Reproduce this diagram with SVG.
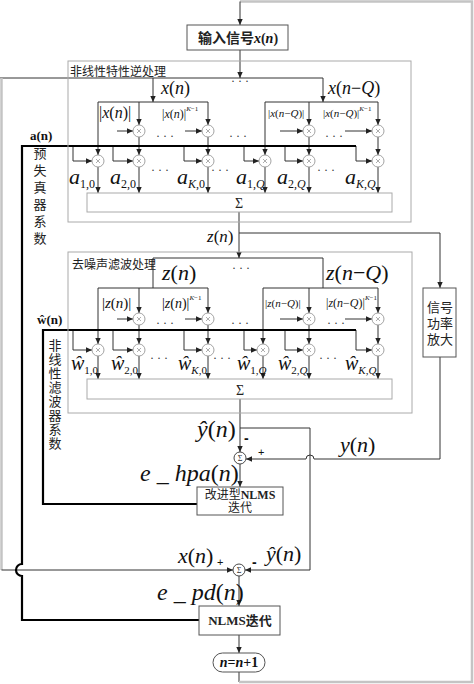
<svg xmlns="http://www.w3.org/2000/svg" width="474" height="684" viewBox="0 0 474 684">
<defs>
<marker id="ah" viewBox="0 0 10 10" refX="10" refY="5" markerWidth="7" markerHeight="6" orient="auto" markerUnits="userSpaceOnUse"><path d="M0,0.5 L10,5 L0,9.5 z" fill="#222"/></marker>
<g id="mul"><circle r="6" fill="#fff" stroke="#999" stroke-width="0.9"/><path d="M-2,-2 L2,2 M2,-2 L-2,2" stroke="#999" stroke-width="0.8"/></g>
<g id="sj"><circle r="6" fill="#fff" stroke="#333" stroke-width="0.9"/><text y="3" font-family="Liberation Serif, serif" font-size="8" text-anchor="middle" fill="#333">Σ</text></g>
<style>
.ln{fill:none;stroke:#333;stroke-width:1}
.ar{fill:none;stroke:#333;stroke-width:1;marker-end:url(#ah)}
.th{fill:none;stroke:#000;stroke-width:2.2}
.lp{fill:none;stroke:#c4c4c4;stroke-width:2.5}
.fr{fill:none;stroke:#aaa;stroke-width:1}
.bx{fill:#fff;stroke:#555;stroke-width:1}
.cn{font-family:"Liberation Serif","Noto Sans CJK SC",serif;fill:#222}
.m{font-family:"Liberation Serif",serif;font-style:italic;fill:#111}
.r{font-style:normal}
.b{font-weight:bold}
.dt{font-family:"Liberation Serif",serif;font-size:12px;fill:#333;text-anchor:middle}
</style>
</defs>

<g id="connectors">
<!-- outer loop -->
<path class="ln" d="M239,672 V682"/>
<path class="lp" d="M239,682 H472 V1.5 H240"/>
<path class="ar" d="M240,1.5 V25"/>
<path class="ar" d="M240,50 V78"/>
<!-- x(n) distribution -->
<path class="ln" d="M0,78 H323"/>
<path class="lp" d="M1.5,78 V570"/>
<path class="ar" d="M1.5,570 H233"/>
<path class="ar" d="M153,78 V102"/>
<path class="ar" d="M323,78 V102"/>

<!-- block 1 -->
<path class="ln" d="M98,102 H208 M265,102 H378"/>
<path class="ar" d="M98,102 V155"/><path class="ar" d="M265,102 V155"/>
<path class="ar" d="M139,102 V125"/><path class="ar" d="M208,102 V125"/><path class="ar" d="M309,102 V125"/><path class="ar" d="M378,102 V125"/>
<path class="ar" d="M139,137 V155"/><path class="ar" d="M208,137 V155"/><path class="ar" d="M309,137 V155"/><path class="ar" d="M378,137 V155"/>
<path class="ar" d="M117,131 H133"/><path class="ar" d="M185,131 H202"/><path class="ar" d="M280,131 H303"/><path class="ar" d="M345,131 H372"/>
<path class="ar" d="M73,146 V161 H92"/><path class="ar" d="M113,146 V161 H133"/><path class="ar" d="M184,146 V161 H202"/><path class="ar" d="M244,146 V161 H259"/><path class="ar" d="M285,146 V161 H303"/><path class="ar" d="M356,146 V161 H372"/>
<path class="ar" d="M98,167 V193"/><path class="ar" d="M139,167 V193"/><path class="ar" d="M208,167 V193"/><path class="ar" d="M265,167 V193"/><path class="ar" d="M309,167 V193"/><path class="ar" d="M378,167 V193"/>
<!-- z(n) -->
<path class="ar" d="M239,212 V258"/>
<path class="ar" d="M239,233 H440 V288"/>

<!-- block 2 -->
<path class="ln" d="M153,258 H323 M153,258 V288 M323,258 V288"/>
<path class="ln" d="M98,288 H208 M263,288 H378"/>
<path class="ar" d="M98,288 V344"/><path class="ar" d="M263,288 V344"/>
<path class="ar" d="M139,288 V313"/><path class="ar" d="M208,288 V313"/><path class="ar" d="M309,288 V313"/><path class="ar" d="M378,288 V313"/>
<path class="ar" d="M139,325 V344"/><path class="ar" d="M208,325 V344"/><path class="ar" d="M309,325 V344"/><path class="ar" d="M378,325 V344"/>
<path class="ar" d="M117,319 H133"/><path class="ar" d="M185,319 H202"/><path class="ar" d="M280,319 H303"/><path class="ar" d="M345,319 H372"/>
<path class="ar" d="M73,330 V350 H92"/><path class="ar" d="M113,330 V350 H133"/><path class="ar" d="M184,330 V350 H202"/><path class="ar" d="M244,330 V350 H257"/><path class="ar" d="M285,330 V350 H303"/><path class="ar" d="M356,330 V350 H372"/>
<path class="ar" d="M98,356 V379"/><path class="ar" d="M139,356 V379"/><path class="ar" d="M208,356 V379"/><path class="ar" d="M263,356 V379"/><path class="ar" d="M309,356 V379"/><path class="ar" d="M378,356 V379"/>

<!-- error 1 -->
<path class="ar" d="M240,399 V452"/>
<path class="ln" d="M240,428 H310 V570"/>
<path class="ar" d="M310,570 H245"/>
<path class="ar" d="M440,357 V459 H314 A4,4 0 0 0 306,459 H246"/>
<path class="ar" d="M240,464 V487"/>
<!-- coefficient buses -->
<path class="th" d="M197,504 H43 V330 H356"/>
<path class="th" d="M199,620 H22 V576 A6,6 0 0 1 22,564 V146 H356"/>
<!-- error 2 -->
<path class="ar" d="M239,576 V606"/>
<path class="ar" d="M239,635 V653"/>
</g>

<g id="input-box">
<rect class="bx" x="187" y="25" width="101" height="25"/>
<text class="cn b" x="238" y="43" font-size="14" text-anchor="middle">输入信号<tspan class="m b">x</tspan><tspan class="b">(</tspan><tspan class="m b">n</tspan><tspan class="b">)</tspan></text>
</g>
<text class="m" x="161" y="94" font-size="18">x<tspan class="r">(</tspan>n<tspan class="r">)</tspan></text>
<text class="dt" x="240" y="85">· · ·</text>
<text class="m" x="328" y="94" font-size="18">x<tspan class="r">(</tspan>n<tspan class="r">−</tspan>Q<tspan class="r">)</tspan></text>

<g id="block1">
<rect class="fr" x="68" y="61" width="343" height="161"/>
<text class="cn" x="70" y="76" font-size="12">非线性特性逆处理</text>
<text class="m" x="99" y="118" font-size="16"><tspan class="r">|</tspan>x<tspan class="r">(</tspan>n<tspan class="r">)|</tspan></text>
<text class="m" x="162" y="118" font-size="12"><tspan class="r">|</tspan>x<tspan class="r">(</tspan>n<tspan class="r">)|</tspan><tspan dy="-7" font-size="7">K<tspan class="r">−1</tspan></tspan></text>
<text class="m" x="268" y="117" font-size="11"><tspan class="r">|</tspan>x<tspan class="r">(</tspan>n<tspan class="r">−</tspan>Q<tspan class="r">)|</tspan></text>
<text class="m" x="323" y="117" font-size="11"><tspan class="r">|</tspan>x<tspan class="r">(</tspan>n<tspan class="r">−</tspan>Q<tspan class="r">)|</tspan><tspan dy="-6" font-size="7">K<tspan class="r">−1</tspan></tspan></text>
<use href="#mul" x="139" y="131"/><use href="#mul" x="208" y="131"/><use href="#mul" x="309" y="131"/><use href="#mul" x="378" y="131"/>
<use href="#mul" x="98" y="161"/><use href="#mul" x="139" y="161"/><use href="#mul" x="208" y="161"/><use href="#mul" x="265" y="161"/><use href="#mul" x="309" y="161"/><use href="#mul" x="378" y="161"/>
<text class="dt" x="165" y="140">· · ·</text><text class="dt" x="238" y="140">· · ·</text><text class="dt" x="334" y="140">· · ·</text>
<text class="dt" x="160" y="174">· · ·</text><text class="dt" x="220" y="174">· · ·</text><text class="dt" x="326" y="174">· · ·</text>
<text class="m" x="69" y="184" font-size="22">a<tspan class="r" dy="4" font-size="12">1,0</tspan></text>
<text class="m" x="110" y="184" font-size="22">a<tspan class="r" dy="4" font-size="12">2,0</tspan></text>
<text class="m" x="177" y="184" font-size="22">a<tspan dy="4" font-size="12">K<tspan class="r">,0</tspan></tspan></text>
<text class="m" x="236" y="184" font-size="22">a<tspan dy="4" font-size="12"><tspan class="r">1,</tspan>Q</tspan></text>
<text class="m" x="277" y="184" font-size="22">a<tspan dy="4" font-size="12"><tspan class="r">2,</tspan>Q</tspan></text>
<text class="m" x="345" y="184" font-size="22">a<tspan dy="4" font-size="12">K<tspan class="r">,</tspan>Q</tspan></text>
</g>
<g id="sum1">
<rect class="fr" x="87" y="193" width="305" height="19"/>
<text x="239" y="208" font-family="Liberation Serif, serif" font-size="14" text-anchor="middle" fill="#222">Σ</text>
</g>
<text class="m" x="207" y="242" font-size="17">z<tspan class="r">(</tspan>n<tspan class="r">)</tspan></text>

<g id="block2">
<rect class="fr" x="68" y="252" width="344" height="161"/>
<text class="cn" x="72" y="269" font-size="12">去噪声滤波处理</text>
<text class="m" x="162" y="280" font-size="22">z<tspan class="r">(</tspan>n<tspan class="r">)</tspan></text>
<text class="dt" x="241" y="272">· · ·</text>
<text class="m" x="326" y="280" font-size="22">z<tspan class="r">(</tspan>n<tspan class="r">−</tspan>Q<tspan class="r">)</tspan></text>
<text class="m" x="102" y="308" font-size="15"><tspan class="r">|</tspan>z<tspan class="r">(</tspan>n<tspan class="r">)|</tspan></text>
<text class="m" x="162" y="308" font-size="14"><tspan class="r">|</tspan>z<tspan class="r">(</tspan>n<tspan class="r">)|</tspan><tspan dy="-8" font-size="7">K<tspan class="r">−1</tspan></tspan></text>
<text class="m" x="265" y="307" font-size="11"><tspan class="r">|</tspan>z<tspan class="r">(</tspan>n<tspan class="r">−</tspan>Q<tspan class="r">)|</tspan></text>
<text class="m" x="326" y="307" font-size="12"><tspan class="r">|</tspan>z<tspan class="r">(</tspan>n<tspan class="r">−</tspan>Q<tspan class="r">)|</tspan><tspan dy="-7" font-size="7">K<tspan class="r">−1</tspan></tspan></text>
<use href="#mul" x="139" y="319"/><use href="#mul" x="208" y="319"/><use href="#mul" x="309" y="319"/><use href="#mul" x="378" y="319"/>
<use href="#mul" x="98" y="350"/><use href="#mul" x="139" y="350"/><use href="#mul" x="208" y="350"/><use href="#mul" x="263" y="350"/><use href="#mul" x="309" y="350"/><use href="#mul" x="378" y="350"/>
<text class="dt" x="165" y="327">· · ·</text><text class="dt" x="240" y="327">· · ·</text><text class="dt" x="336" y="327">· · ·</text>
<text class="dt" x="159" y="362">· · ·</text><text class="dt" x="222" y="362">· · ·</text><text class="dt" x="328" y="362">· · ·</text>
<text class="m" x="71" y="370" font-size="20">ŵ<tspan class="r" dy="4" font-size="11">1,0</tspan></text>
<text class="m" x="111" y="370" font-size="20">ŵ<tspan class="r" dy="4" font-size="11">2,0</tspan></text>
<text class="m" x="178" y="370" font-size="20">ŵ<tspan dy="4" font-size="11">K<tspan class="r">,0</tspan></tspan></text>
<text class="m" x="237" y="370" font-size="20">ŵ<tspan dy="4" font-size="11"><tspan class="r">1,</tspan>Q</tspan></text>
<text class="m" x="278" y="370" font-size="20">ŵ<tspan dy="4" font-size="11"><tspan class="r">2,</tspan>Q</tspan></text>
<text class="m" x="345" y="370" font-size="20">ŵ<tspan dy="4" font-size="11">K<tspan class="r">,</tspan>Q</tspan></text>
</g>
<g id="sum2">
<rect class="fr" x="87" y="379" width="305" height="20"/>
<text x="240" y="395" font-family="Liberation Serif, serif" font-size="14" text-anchor="middle" fill="#222">Σ</text>
</g>

<g id="labels-left">
<text x="30" y="140" font-family="Liberation Serif, serif" font-size="13" font-weight="bold" fill="#111">a(n)</text>
<text class="cn" font-size="13" text-anchor="middle"><tspan x="40" y="158">预</tspan><tspan x="40" y="175">失</tspan><tspan x="40" y="192">真</tspan><tspan x="40" y="209">器</tspan><tspan x="40" y="226">系</tspan><tspan x="40" y="243">数</tspan></text>
<text x="37" y="324" font-family="Liberation Serif, serif" font-size="13" font-weight="bold" fill="#111">ŵ(n)</text>
<text class="cn" font-size="13" text-anchor="middle"><tspan x="55" y="350">非</tspan><tspan x="55" y="364">线</tspan><tspan x="55" y="378">性</tspan><tspan x="55" y="392">滤</tspan><tspan x="55" y="406">波</tspan><tspan x="55" y="420">器</tspan><tspan x="55" y="434">系</tspan><tspan x="55" y="448">数</tspan></text>
</g>

<g id="amp-box">
<rect class="bx" x="423" y="288" width="33" height="69"/>
<text class="cn" font-size="13" text-anchor="middle"><tspan x="440" y="312">信号</tspan><tspan x="440" y="328">功率</tspan><tspan x="440" y="344">放大</tspan></text>
</g>

<g id="junction1">
<use href="#sj" x="240" y="458"/>
<text class="m" x="197" y="437" font-size="24">ŷ<tspan class="r">(</tspan>n<tspan class="r">)</tspan></text>
<text x="244" y="443" font-family="Liberation Sans, sans-serif" font-size="14" font-weight="bold" fill="#111">-</text>
<text x="258" y="456" font-family="Liberation Sans, sans-serif" font-size="11" fill="#111">+</text>
<text class="m" x="340" y="452" font-size="22">y<tspan class="r">(</tspan>n<tspan class="r">)</tspan></text>
<text class="m" x="140" y="481" font-size="24">e <tspan class="r">_</tspan> hpa<tspan class="r">(</tspan>n<tspan class="r">)</tspan></text>
</g>

<g id="nlms-improved">
<rect class="bx" x="197" y="487" width="86" height="28"/>
<text class="cn" x="240" y="499" font-size="12" text-anchor="middle">改进型<tspan class="b">NLMS</tspan></text>
<text class="cn" x="240" y="512" font-size="12" text-anchor="middle">迭代</text>
</g>

<g id="junction2">
<use href="#sj" x="239" y="570"/>
<text class="m" x="178" y="563" font-size="22">x<tspan class="r">(</tspan>n<tspan class="r">)</tspan></text>
<text x="217" y="566" font-family="Liberation Sans, sans-serif" font-size="11" fill="#111">+</text>
<text x="252" y="567" font-family="Liberation Sans, sans-serif" font-size="14" font-weight="bold" fill="#111">-</text>
<text class="m" x="266" y="561" font-size="22">ŷ<tspan class="r">(</tspan>n<tspan class="r">)</tspan></text>
<text class="m" x="157" y="600" font-size="24">e <tspan class="r">_</tspan> pd<tspan class="r">(</tspan>n<tspan class="r">)</tspan></text>
</g>

<g id="nlms">
<rect class="bx" x="199" y="606" width="81" height="29"/>
<text class="cn b" x="240" y="625" font-size="13" text-anchor="middle">NLMS迭代</text>
</g>

<g id="increment">
<rect class="bx" x="213" y="653" width="52" height="19" rx="9.5"/>
<text x="239" y="667" font-family="Liberation Serif, serif" font-size="14" font-weight="bold" text-anchor="middle" fill="#111"><tspan font-style="italic">n</tspan>=<tspan font-style="italic">n</tspan>+1</text>
</g>
</svg>
